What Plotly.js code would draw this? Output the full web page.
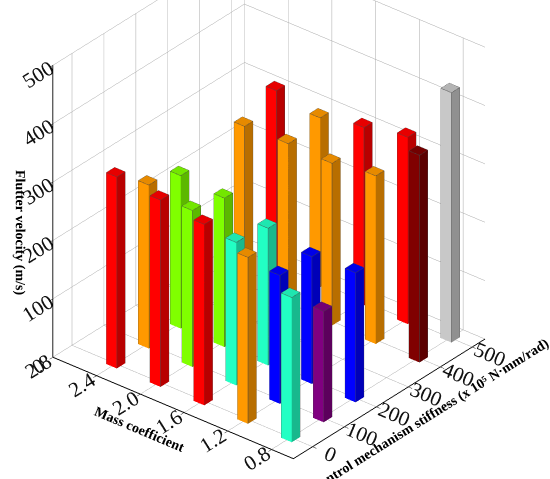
<!DOCTYPE html>
<html>
<head>
<meta charset="utf-8">
<script src="https://cdn.plot.ly/plotly-3.0.1.min.js"></script>
<style>html,body{margin:0;padding:0;background:#fff;}#chart{width:550px;height:479px;}</style>
</head>
<body>
<div id="chart"></div>
<script>
// ---- data ----
const massCoef = [2.4, 2.0, 1.6, 1.2, 0.8];
const stiffness = [0, 100, 200, 400, 500];
// flutter velocity (m/s), one row per mass coefficient, one column per stiffness
const velM24 = [328, 280, 262, 278, 305];
const velM20 = [320, 268, 255, 280, 290];
const velM16 = [310, 245, 235, 278, 305];
const velM12 = [285, 220, 218, 288, 320];
const velM08 = [248, 190, 222, 355, 428];
const velocity = [velM24, velM20, velM16, velM12, velM08];

const stiffTicks = [0, 100, 200, 300, 400, 500];
const massTicks = [0.8, 1.2, 1.6, 2.0, 2.4, 2.8];
const velTicks = [0, 100, 200, 300, 400, 500];

// ---- styles ----
const levelBounds = [200, 225, 250, 275, 300, 350, 400];
const levelColors = [
  [128, 0, 128], [0, 0, 255], [34, 255, 196], [128, 255, 0],
  [255, 153, 0], [255, 0, 0], [128, 0, 0], [200, 200, 200]
];
function levelColor(v) {
  let k = 0;
  while (k < levelBounds.length && v >= levelBounds[k]) k++;
  return levelColors[k];
}
function shade(c, f) {
  return 'rgb(' + c.map(x => Math.round(x * f)).join(',') + ')';
}
const halfS = 13;
const halfM = 0.048;

const X = [], Y = [], Z = [], I = [], J = [], K = [], FC = [];
const ex = [], ey = [], ez = [];
massCoef.forEach((m, mi) => {
  stiffness.forEach((s, si) => {
    const v = velocity[mi][si];
    const c = levelColor(v);
    const x0 = s - halfS, x1 = s + halfS, y0 = m - halfM, y1 = m + halfM;
    const b = X.length;
    const pts = [[x0,y0,0],[x1,y0,0],[x1,y1,0],[x0,y1,0],[x0,y0,v],[x1,y0,v],[x1,y1,v],[x0,y1,v]];
    pts.forEach(p => { X.push(p[0]); Y.push(p[1]); Z.push(p[2]); });
    const tri = (a, bb, cc, col) => { I.push(b + a); J.push(b + bb); K.push(b + cc); FC.push(col); };
    const bright = shade(c, 1), dark = shade(c, 0.72), top = shade(c, 0.9);
    tri(0, 3, 7, bright); tri(0, 7, 4, bright);
    tri(0, 1, 5, dark);   tri(0, 5, 4, dark);
    tri(4, 5, 6, top);    tri(4, 6, 7, top);
    tri(1, 2, 6, dark);   tri(1, 6, 5, dark);
    tri(3, 2, 6, bright); tri(3, 6, 7, bright);
    const seq = [4, 5, 6, 7, 4];
    seq.forEach(q => { ex.push(pts[q][0]); ey.push(pts[q][1]); ez.push(pts[q][2]); });
    ex.push(null); ey.push(null); ez.push(null);
    [[0, 4], [1, 5], [3, 7]].forEach(([p, q]) => {
      ex.push(pts[p][0], pts[q][0], null);
      ey.push(pts[p][1], pts[q][1], null);
      ez.push(pts[p][2], pts[q][2], null);
    });
  });
});

const bars = {
  type: 'mesh3d', x: X, y: Y, z: Z, i: I, j: J, k: K,
  facecolor: FC, flatshading: true, hoverinfo: 'skip',
  lighting: {ambient: 1, diffuse: 0, specular: 0, roughness: 1, fresnel: 0},
  showscale: false
};
const edges = {
  type: 'scatter3d', mode: 'lines', x: ex, y: ey, z: ez,
  line: {color: 'rgb(70,70,70)', width: 1}, hoverinfo: 'skip', showlegend: false
};

const tickFont = {family: 'Liberation Serif', size: 16, color: '#111'};
const titleFont = {family: 'Liberation Serif', size: 14, color: '#000'};
const axisCommon = {
  showbackground: false, showgrid: true, gridcolor: '#a8a8a8', gridwidth: 1,
  showline: true, linecolor: '#000', linewidth: 2, zeroline: false,
  ticks: 'outside', tickcolor: '#000', ticklen: 5, tickfont: tickFont,
  showspikes: false
};

const layout = {
  width: 550, height: 479,
  margin: {l: 0, r: 0, t: 0, b: 0},
  paper_bgcolor: '#fff',
  showlegend: false,
  scene: {
    domain: {x: [0, 1], y: [0, 1]},
    aspectmode: 'manual',
    aspectratio: {x: 1.26, y: 1.3, z: 1.42},
    camera: {
      eye: {x: -1.42, y: -1.2, z: 0.93},
      center: {x: 0.04, y: 0, z: -0.2},
      up: {x: 0, y: 0, z: 1},
      projection: {type: 'orthographic'}
    },
    xaxis: Object.assign({}, axisCommon, {
      range: [-60, 540], tickvals: stiffTicks,
      title: {text: '<b>Control mechanism stiffness (x 10⁵ N·mm/rad)</b>', font: titleFont}
    }),
    yaxis: Object.assign({}, axisCommon, {
      range: [0.6, 2.8], tickvals: massTicks, ticktext: massTicks.map(v => v.toFixed(1)),
      title: {text: '<b>Mass coefficient</b>', font: titleFont}
    }),
    zaxis: Object.assign({}, axisCommon, {
      range: [0, 500], tickvals: velTicks,
      title: {text: '<b>Flutter velocity (m/s)</b>', font: titleFont}
    })
  }
};

Plotly.newPlot('chart', [bars, edges], layout, {displayModeBar: false});
</script>
</body>
</html>
